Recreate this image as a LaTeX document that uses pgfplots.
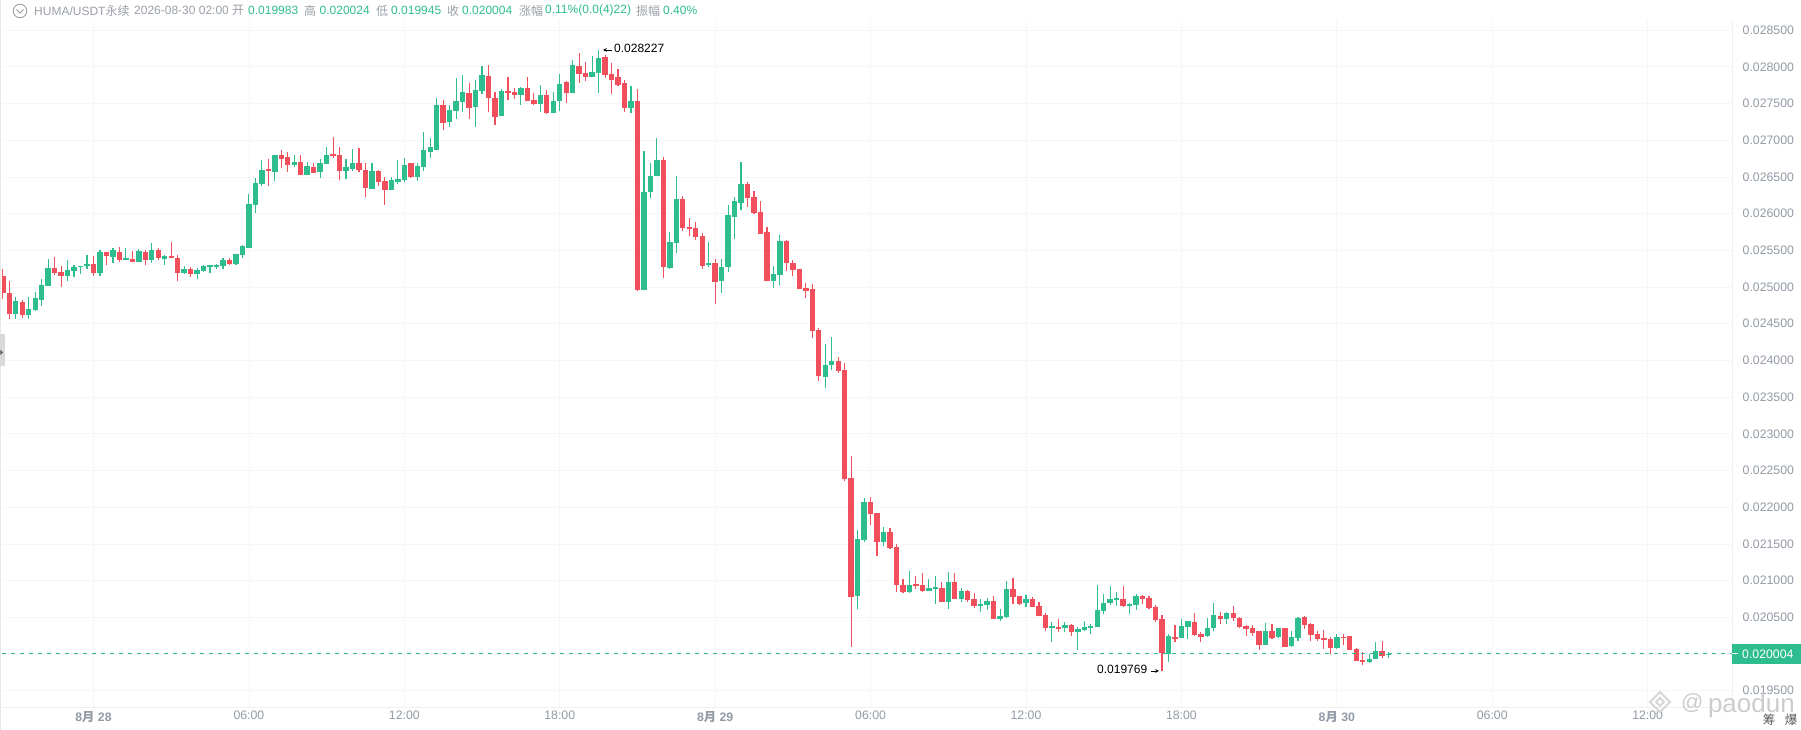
\documentclass[border=0pt]{standalone}
\usepackage{pgfplots}
\pgfplotsset{compat=1.18}
\usepackage{pgfplotstable}
\usepackage{fontspec}
\setmainfont{Liberation Sans}
\newfontfamily\cjk{Noto Sans CJK SC}
\definecolor{up}{HTML}{2EBD8F}
\definecolor{dn}{HTML}{F14F5C}
\definecolor{lab}{HTML}{929AA5}
\definecolor{ttl}{HTML}{9A9FA8}
\definecolor{gridc}{HTML}{F6F6F6}
\pgfplotstableread{
j o h l c
-12 0.024637 0.024859 0.024564 0.024809
-10 0.024618 0.024859 0.024568 0.024700
-9 0.024686 0.024936 0.024677 0.024850
-8 0.024827 0.025104 0.024745 0.025027
-7 0.025018 0.025381 0.025013 0.025258
-4 0.025154 0.025368 0.025086 0.025227
-3 0.025222 0.025295 0.025141 0.025272
-2 0.025268 0.025291 0.025172 0.025286
-1 0.025291 0.025431 0.025249 0.025313
1 0.025195 0.025499 0.025154 0.025477
3 0.025409 0.025531 0.025331 0.025499
5 0.025372 0.025531 0.025368 0.025395
7 0.025345 0.025513 0.025340 0.025490
9 0.025368 0.025604 0.025331 0.025504
11 0.025386 0.025436 0.025304 0.025418
14 0.025190 0.025281 0.025181 0.025240
16 0.025181 0.025258 0.025109 0.025227
17 0.025222 0.025295 0.025204 0.025281
18 0.025277 0.025300 0.025186 0.025295
19 0.025272 0.025313 0.025249 0.025295
20 0.025291 0.025390 0.025240 0.025368
22 0.025313 0.025449 0.025304 0.025445
23 0.025436 0.025567 0.025399 0.025558
24 0.025536 0.026262 0.025531 0.026130
25 0.026121 0.026489 0.026003 0.026417
26 0.026398 0.026734 0.026376 0.026594
28 0.026571 0.026803 0.026448 0.026798
31 0.026662 0.026803 0.026635 0.026703
33 0.026530 0.026703 0.026526 0.026648
35 0.026571 0.026739 0.026480 0.026689
36 0.026680 0.026907 0.026675 0.026798
39 0.026585 0.026748 0.026476 0.026635
40 0.026607 0.026880 0.026585 0.026689
43 0.026339 0.026685 0.026335 0.026580
46 0.026321 0.026494 0.026315 0.026457
47 0.026430 0.026730 0.026407 0.026471
48 0.026457 0.026753 0.026430 0.026662
50 0.026503 0.026685 0.026444 0.026648
51 0.026635 0.027111 0.026585 0.026866
52 0.026839 0.027025 0.026753 0.026907
53 0.026866 0.027575 0.026862 0.027479
55 0.027248 0.027479 0.027180 0.027411
56 0.027397 0.027842 0.027289 0.027534
57 0.027520 0.027888 0.027388 0.027656
59 0.027452 0.027824 0.027184 0.027684
60 0.027670 0.028011 0.027629 0.027888
63 0.027329 0.027697 0.027325 0.027670
66 0.027615 0.027724 0.027484 0.027711
69 0.027493 0.027752 0.027384 0.027615
71 0.027370 0.027656 0.027366 0.027534
72 0.027534 0.027902 0.027397 0.027765
74 0.027643 0.028092 0.027638 0.028024
77 0.027865 0.028147 0.027861 0.027929
78 0.027915 0.028227 0.027643 0.028120
83 0.027438 0.027738 0.027375 0.027534
85 0.024959 0.026852 0.024955 0.026294
86 0.026294 0.026684 0.026208 0.026512
87 0.026512 0.027030 0.026508 0.026730
89 0.025259 0.025754 0.025245 0.025613
90 0.025599 0.026512 0.025458 0.026199
95 0.025299 0.025613 0.025272 0.025327
97 0.025082 0.025386 0.024918 0.025272
98 0.025272 0.026117 0.025209 0.025981
99 0.025953 0.026221 0.025654 0.026171
100 0.026144 0.026703 0.026049 0.026403
105 0.025082 0.025286 0.024986 0.025177
106 0.025163 0.025708 0.025023 0.025626
113 0.023774 0.024223 0.023619 0.023937
114 0.023937 0.024319 0.023869 0.023992
118 0.020790 0.021689 0.020609 0.021567
119 0.021553 0.022121 0.021526 0.022071
122 0.021526 0.021730 0.021471 0.021662
126 0.020845 0.021131 0.020836 0.020940
129 0.020858 0.021022 0.020853 0.020899
130 0.020886 0.021063 0.020681 0.020913
132 0.020709 0.021122 0.020613 0.020981
134 0.020749 0.020899 0.020709 0.020858
137 0.020654 0.020749 0.020572 0.020681
138 0.020668 0.020763 0.020595 0.020722
140 0.020477 0.020613 0.020454 0.020518
141 0.020504 0.020995 0.020491 0.020886
144 0.020695 0.020799 0.020640 0.020749
148 0.020354 0.020436 0.020168 0.020382
150 0.020354 0.020436 0.020300 0.020395
152 0.020300 0.020363 0.020055 0.020341
153 0.020327 0.020445 0.020309 0.020368
154 0.020354 0.020404 0.020268 0.020382
155 0.020368 0.020940 0.020364 0.020600
156 0.020586 0.020817 0.020545 0.020695
157 0.020695 0.020927 0.020668 0.020749
158 0.020736 0.020845 0.020654 0.020763
160 0.020654 0.020690 0.020545 0.020681
161 0.020668 0.020817 0.020600 0.020790
166 0.020000 0.020273 0.019891 0.020245
168 0.020218 0.020482 0.020214 0.020382
169 0.020368 0.020450 0.020200 0.020450
172 0.020245 0.020491 0.020236 0.020354
173 0.020354 0.020695 0.020309 0.020532
175 0.020477 0.020577 0.020409 0.020559
181 0.020123 0.020423 0.020118 0.020314
183 0.020232 0.020354 0.020223 0.020354
185 0.020109 0.020314 0.020100 0.020232
186 0.020218 0.020500 0.020177 0.020491
192 0.020082 0.020273 0.020068 0.020232
197 0.019891 0.020000 0.019878 0.019932
198 0.019932 0.020159 0.019928 0.020041
200 0.019983 0.020024 0.019945 0.020004
}\upT
\pgfplotstableread{
j o h l c
-14 0.025150 0.025241 0.024832 0.024918
-13 0.024918 0.025082 0.024559 0.024637
-11 0.024800 0.024823 0.024573 0.024618
-6 0.025258 0.025413 0.025163 0.025190
-5 0.025204 0.025286 0.025004 0.025154
0 0.025313 0.025422 0.025154 0.025195
2 0.025477 0.025481 0.025295 0.025418
4 0.025477 0.025549 0.025340 0.025368
6 0.025377 0.025490 0.025340 0.025345
8 0.025477 0.025504 0.025295 0.025368
10 0.025504 0.025531 0.025368 0.025399
12 0.025418 0.025608 0.025390 0.025399
13 0.025395 0.025431 0.025086 0.025195
15 0.025240 0.025272 0.025141 0.025181
21 0.025363 0.025395 0.025304 0.025313
27 0.026607 0.026744 0.026371 0.026580
29 0.026798 0.026866 0.026621 0.026748
30 0.026771 0.026839 0.026567 0.026662
32 0.026703 0.026798 0.026526 0.026530
34 0.026635 0.026685 0.026553 0.026557
37 0.026812 0.027039 0.026762 0.026784
38 0.026798 0.026907 0.026453 0.026580
41 0.026689 0.026893 0.026567 0.026594
42 0.026594 0.026689 0.026221 0.026349
44 0.026580 0.026594 0.026376 0.026430
45 0.026444 0.026498 0.026121 0.026321
49 0.026689 0.026689 0.026480 0.026498
54 0.027479 0.027552 0.027134 0.027234
58 0.027643 0.027774 0.027289 0.027438
61 0.027874 0.028024 0.027388 0.027575
62 0.027575 0.027661 0.027202 0.027316
64 0.027670 0.027856 0.027543 0.027643
65 0.027656 0.027711 0.027561 0.027615
67 0.027711 0.027861 0.027529 0.027534
68 0.027547 0.027647 0.027479 0.027493
70 0.027615 0.027684 0.027361 0.027370
73 0.027793 0.027811 0.027511 0.027643
75 0.028011 0.028192 0.027774 0.027902
76 0.027915 0.028065 0.027811 0.027861
79 0.028133 0.028165 0.027847 0.027888
80 0.027902 0.028047 0.027629 0.027820
81 0.027861 0.027974 0.027743 0.027752
82 0.027779 0.027820 0.027384 0.027438
84 0.027534 0.027693 0.024950 0.024959
88 0.026730 0.026771 0.025127 0.025272
91 0.026199 0.026240 0.025758 0.025804
92 0.025817 0.025940 0.025690 0.025790
93 0.025804 0.025885 0.025645 0.025681
94 0.025695 0.025740 0.025245 0.025286
96 0.025327 0.025386 0.024768 0.025068
101 0.026403 0.026426 0.026090 0.026212
102 0.026226 0.026303 0.025999 0.026008
103 0.026022 0.026171 0.025718 0.025722
104 0.025749 0.025822 0.025078 0.025082
107 0.025626 0.025640 0.025218 0.025327
108 0.025327 0.025368 0.025154 0.025231
109 0.025245 0.025245 0.024969 0.024973
110 0.024986 0.025059 0.024850 0.024945
111 0.024973 0.025041 0.024300 0.024405
112 0.024414 0.024437 0.023719 0.023787
115 0.023992 0.024042 0.023833 0.023855
116 0.023869 0.023969 0.022357 0.022384
117 0.022398 0.022702 0.020100 0.020777
120 0.022071 0.022144 0.021753 0.021907
121 0.021921 0.021921 0.021335 0.021526
123 0.021662 0.021717 0.021431 0.021444
124 0.021458 0.021499 0.020845 0.020940
125 0.020940 0.021022 0.020831 0.020845
127 0.020954 0.021058 0.020881 0.020927
128 0.020940 0.021104 0.020845 0.020858
131 0.020899 0.020981 0.020705 0.020709
133 0.020981 0.021099 0.020745 0.020749
135 0.020858 0.020868 0.020709 0.020736
136 0.020749 0.020827 0.020627 0.020654
139 0.020722 0.020790 0.020472 0.020477
142 0.020886 0.021036 0.020677 0.020777
143 0.020790 0.020790 0.020672 0.020681
145 0.020749 0.020777 0.020636 0.020640
146 0.020654 0.020709 0.020514 0.020518
147 0.020532 0.020559 0.020309 0.020354
149 0.020368 0.020472 0.020295 0.020341
151 0.020395 0.020404 0.020245 0.020300
159 0.020749 0.020927 0.020640 0.020654
162 0.020790 0.020804 0.020681 0.020749
163 0.020763 0.020790 0.020609 0.020627
164 0.020640 0.020668 0.020436 0.020463
165 0.020477 0.020527 0.019769 0.020014
167 0.020232 0.020400 0.020164 0.020205
170 0.020436 0.020559 0.020245 0.020259
171 0.020273 0.020300 0.020159 0.020232
174 0.020518 0.020568 0.020404 0.020477
176 0.020559 0.020654 0.020450 0.020491
177 0.020491 0.020509 0.020359 0.020368
178 0.020382 0.020395 0.020250 0.020341
179 0.020354 0.020395 0.020250 0.020286
180 0.020314 0.020314 0.020059 0.020123
182 0.020314 0.020409 0.020209 0.020218
184 0.020354 0.020359 0.020091 0.020096
187 0.020504 0.020513 0.020345 0.020395
188 0.020409 0.020423 0.020177 0.020259
189 0.020273 0.020314 0.020177 0.020205
190 0.020218 0.020327 0.020068 0.020191
191 0.020205 0.020236 0.020005 0.020082
193 0.020236 0.020273 0.020118 0.020218
194 0.020245 0.020245 0.020050 0.020055
195 0.020068 0.020077 0.019900 0.019905
196 0.019914 0.020023 0.019855 0.019896
199 0.020041 0.020177 0.019945 0.019973
}\dnT
\newcommand{\fs}[1]{\fontsize{#1bp}{#1bp}\selectfont}
\begin{document}
\begin{tikzpicture}[x=1bp,y=1bp]
\useasboundingbox (0,0) rectangle (1801,730);
\begin{axis}[
  at={(2bp,22.3bp)},anchor=south west,
  scale only axis,width=1730bp,height=687.7bp,
  xmin=-14.13,xmax=253.03,ymin=0.019269,ymax=0.028638,
  axis x line=bottom,axis y line=right,
  axis line style={draw=black!6,-},
  tick style={draw=none},
  grid=major,grid style={gridc,line width=0.8bp},
  xtick={0,24,...,240},
  xticklabels={{\bfseries 8{\cjk\bfseries 月} 28},06:00,12:00,18:00,{\bfseries 8{\cjk\bfseries 月} 29},06:00,12:00,18:00,{\bfseries 8{\cjk\bfseries 月} 30},06:00,12:00},
  ytick={0.0195,0.02,0.0205,0.021,0.0215,0.022,0.0225,0.023,0.0235,0.024,0.0245,0.025,0.0255,0.026,0.0265,0.027,0.0275,0.028,0.0285},
  scaled y ticks=false,
  yticklabel style={/pgf/number format/.cd,fixed,fixed zerofill,precision=6,assume math mode=true,/tikz/.cd,anchor=west,xshift=5bp,font=\fs{12.3},text=lab},
  xticklabel style={font=\fs{12.3},text=lab,yshift=2bp},
]
\addplot[draw=none,no markers,error bars/.cd,y dir=plus,y explicit,error mark=none,error bar style={line width=1.15bp,draw=up}]
  table[x=j,y=l,y error plus expr=\thisrow{h}-\thisrow{l}]{\upT};
\addplot[draw=none,no markers,error bars/.cd,y dir=plus,y explicit,error mark=none,error bar style={line width=1.15bp,draw=dn}]
  table[x=j,y=l,y error plus expr=\thisrow{h}-\thisrow{l}]{\dnT};
\addplot[draw=none,no markers,error bars/.cd,y dir=plus,y explicit,error mark=none,error bar style={line width=5.4bp,draw=up}]
  table[x=j,y=o,y error plus expr=\thisrow{c}-\thisrow{o}]{\upT};
\addplot[draw=none,no markers,error bars/.cd,y dir=plus,y explicit,error mark=none,error bar style={line width=5.4bp,draw=dn}]
  table[x=j,y=c,y error plus expr=\thisrow{o}-\thisrow{c}]{\dnT};
\addplot[up,line width=0.9bp,dash pattern=on 4bp off 5bp] coordinates {(-14.13,0.020004)(253.03,0.020004)};
\end{axis}
\begin{scope}[x=1bp,y=-1bp,yshift=730bp]
  % left strip and handle
  \fill[gray!18] (0,0) rectangle (1.2,730);
  \fill[gray!30] (0,334) rectangle (5,366);
  \fill[black!65] (0.5,350) -- (3,352.5) -- (0.5,355) -- cycle;
  % last price label
  \fill[up] (1732,644) rectangle (1801,664);
  \draw[white,line width=1bp] (1732,654) -- (1738,654);
  \node[anchor=west,inner sep=0,text=white,font=\fs{12.3}] at (1742,654) {0.020004};
  % extremes
  \node[anchor=west,inner sep=0,font=\fs{12}] at (614,48) {0.028227};
  \draw[-stealth,black,line width=0.7bp] (612,50) -- (603,50);
  \node[anchor=west,inner sep=0,font=\fs{12}] at (1097,669) {0.019769};
  \draw[-stealth,black,line width=0.7bp] (1151,671) -- (1159,671);
  % header
  \draw[ttl,line width=0.9bp] (20,11) circle (6.8);
  \draw[ttl,line width=0.9bp] (16.5,9.5) -- (20,13) -- (23.5,9.5);
  \begin{scope}[every node/.style={anchor=west,inner sep=0,font=\fs{12}}]
  \node[text=ttl] at (34,10.5) {HUMA/USDT{\cjk 永续}};
  \node[text=ttl] at (134,10.5) {2026-08-30 02:00};
  \node[text=ttl] at (232,10.5) {\cjk 开};
  \node[text=up] at (248,10.5) {0.019983};
  \node[text=ttl] at (304,10.5) {\cjk 高};
  \node[text=up] at (319.5,10.5) {0.020024};
  \node[text=ttl] at (376,10.5) {\cjk 低};
  \node[text=up] at (391,10.5) {0.019945};
  \node[text=ttl] at (447,10.5) {\cjk 收};
  \node[text=up] at (462,10.5) {0.020004};
  \node[text=ttl] at (519,10.5) {\cjk 涨幅};
  \node[text=up] at (545,10.5) {0.11\%(0.0(4)22)};
  \node[text=ttl] at (636,10.5) {\cjk 振幅};
  \node[text=up] at (663,10.5) {0.40\%};
  \end{scope}
  % watermark
  \begin{scope}[black!16,line width=2bp]
  \draw (1660,692) -- (1670,702) -- (1660,712) -- (1650,702) -- cycle;
  \draw (1660,698) -- (1664,702) -- (1660,706) -- (1656,702) -- cycle;
  \node[anchor=west,inner sep=0,text=black!20,font=\fs{22}] at (1680,703) {@};
  \node[anchor=west,inner sep=0,text=black!20,font=\fs{26}] at (1707,706) {paodun};
  \end{scope}
  \node[inner sep=0,text=black!65,font=\cjk\fs{12.5}] at (1769,720) {筹};
  \node[inner sep=0,text=black!65,font=\cjk\fs{12.5}] at (1791,720) {爆};
\end{scope}
\end{tikzpicture}
\end{document}
